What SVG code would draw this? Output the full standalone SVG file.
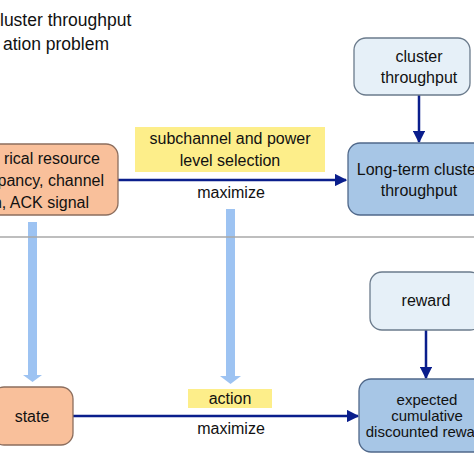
<svg xmlns="http://www.w3.org/2000/svg" width="474" height="474" viewBox="0 0 474 474">
<style>
text{font-family:"Liberation Sans",Arial,sans-serif;font-size:16px;fill:#111}
.t{font-size:17.5px}
.c{text-anchor:middle}
.e{text-anchor:end}
.orange{fill:#F9C09B;stroke:#8C6E5E;stroke-width:1.3}
.lblue{fill:#E6F0F8;stroke:#6B7B8C;stroke-width:1.3}
.mblue{fill:#A7C6E6;stroke:#50688A;stroke-width:1.3}
.yel{fill:#FDEE8A}
.conn{stroke:#0A1E8C;stroke-width:2.5;fill:none}
.fat{fill:#9DC3F2}
</style>
<defs>
<marker id="ah" viewBox="0 0 10 10" refX="9" refY="5" markerWidth="5" markerHeight="5" markerUnits="strokeWidth" orient="auto">
<path d="M0,0 L10,5 L0,10 z" fill="#0A1E8C"/>
</marker>
</defs>
<g id="title">
<text class="t" x="0" y="26">luster throughput</text>
<text class="t" x="3" y="50">ation problem</text>
</g>
<g id="fat-arrows">
<path class="fat" d="M28,222 H37 V375 H42 L32.5,382 L23,375 H28 Z"/>
<path class="fat" d="M226,209 H235 V376 H241 L230.5,384 L220,376 H226 Z"/>
</g>
<line id="divider" x1="0" y1="237" x2="474" y2="237" stroke="#A8A8A8" stroke-width="1.3"/>
<g id="connectors">
<line class="conn" x1="118" y1="180" x2="346" y2="180" marker-end="url(#ah)"/>
<line class="conn" x1="419" y1="95" x2="419" y2="142" marker-end="url(#ah)"/>
<line class="conn" x1="73" y1="416" x2="358" y2="416" marker-end="url(#ah)"/>
<line class="conn" x1="426" y1="330" x2="426" y2="378" marker-end="url(#ah)"/>
</g>
<g id="obs-top">
<rect class="orange" x="-20" y="144" width="138" height="71" rx="12"/>
<text class="e" x="100" y="164">rical resource</text>
<text class="e" x="104" y="186">pancy, channel</text>
<text class="e" x="89" y="208">n, ACK signal</text>
</g>
<g id="sel-top">
<rect class="yel" x="135" y="127" width="190" height="45"/>
<text class="c" x="230" y="144">subchannel and power</text>
<text class="c" x="230" y="166">level selection</text>
</g>
<text class="c" x="231" y="198">maximize</text>
<g id="cluster-throughput">
<rect class="lblue" x="354" y="38" width="116" height="57" rx="12"/>
<text class="c" x="419" y="62">cluster</text>
<text class="c" x="419" y="83">throughput</text>
</g>
<g id="long-term">
<rect class="mblue" x="348" y="143" width="140" height="72" rx="12"/>
<text class="c" x="419" y="175">Long-term cluster</text>
<text class="c" x="419" y="196">throughput</text>
</g>
<g id="state">
<rect class="orange" x="-8" y="387" width="81" height="58" rx="12"/>
<text class="c" x="32" y="422">state</text>
</g>
<g id="action">
<rect class="yel" x="188" y="389" width="84" height="19"/>
<text class="c" x="230" y="404">action</text>
</g>
<text class="c" x="231" y="434">maximize</text>
<g id="reward">
<rect class="lblue" x="370" y="272" width="112" height="58" rx="12"/>
<text class="c" x="426" y="306">reward</text>
</g>
<g id="expected">
<rect class="mblue" x="359" y="379" width="130" height="73" rx="12"/>
<text class="c" x="427" y="405" style="font-size:15px">expected</text>
<text class="c" x="427" y="421" style="font-size:15px">cumulative</text>
<text class="c" x="427" y="437" style="font-size:15px">discounted reward</text>
</g>
</svg>
